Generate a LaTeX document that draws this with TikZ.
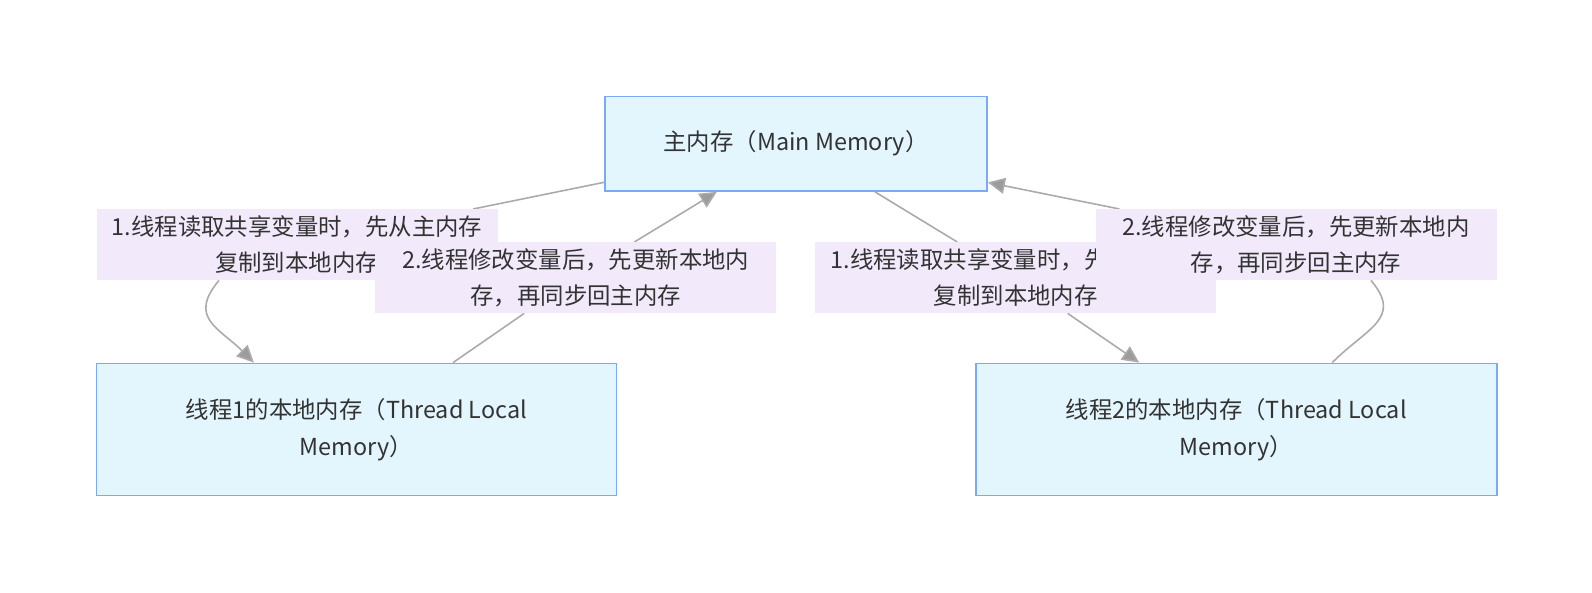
\documentclass[tikz,border=0pt]{standalone}
\usepackage{fontspec}
\setmainfont{Noto Sans CJK SC}
\usetikzlibrary{arrows.meta,backgrounds}
\definecolor{memFill}{HTML}{E3F5FD}
\definecolor{memLine}{HTML}{7AAAF5}
\definecolor{labelFill}{HTML}{F2EAFB}
\definecolor{edgeLine}{HTML}{ABABAB}
\definecolor{tipFill}{HTML}{9C9C9C}
\definecolor{textGray}{HTML}{333333}
\begin{document}
\begin{tikzpicture}[x=1pt,y=1pt,%%
  memStyle/.style={draw=memLine,fill=memFill,line width=1.8pt,align=center,%%
    text=textGray,inner sep=0pt,font=\fontsize{23.4}{36.5}\selectfont},%%
  labelStyle/.style={fill=labelFill,align=center,text=textGray,inner sep=0pt,%%
    minimum width=401pt,minimum height=71pt,font=\fontsize{23.4}{36.5}\selectfont},%%
  edgeStyle/.style={draw=edgeLine,line width=1.6pt},%%
  arrowStyle/.style={edgeStyle,-{Triangle[length=17pt,width=16pt,fill=tipFill]}}
]
\useasboundingbox (0,0) rectangle (1592,592);
%%
%% The memories.
\node[memStyle,minimum width=382pt,minimum height=94.5pt] (main) at (796,448.3)
  {主内存（Main Memory）};
\node[memStyle,minimum width=520pt,minimum height=132pt] (local1) at (356.4,162.5)
  {线程1的本地内存（Thread Local\\Memory）};
\node[memStyle,minimum width=521pt,minimum height=132pt] (local2) at (1236.2,162.5)
  {线程2的本地内存（Thread Local\\Memory）};
%%
%% The edge labels.
\node[labelStyle] (readOne) at (297,347.3)
  {1.线程读取共享变量时，先从主内存\\复制到本地内存};
\node[labelStyle] (writeOne) at (575.7,314.3)
  {2.线程修改变量后，先更新本地内\\存，再同步回主内存};
\node[labelStyle] (readTwo) at (1015.8,314.3)
  {1.线程读取共享变量时，先从主内存\\复制到本地内存};
\node[labelStyle] (writeTwo) at (1296,347.3)
  {2.线程修改变量后，先更新本地内\\存，再同步回主内存};
%%
%% The connectors, behind the labels.
\begin{scope}[on background layer]
  \draw[edgeStyle] (main) -- (readOne);
  \draw[arrowStyle] ([xshift=-78pt]readOne.south) to[out=-130,in=135,looseness=1.4]
    ([xshift=-102.5pt]local1.north);
  \draw[edgeStyle] (local1) -- (writeOne);
  \draw[arrowStyle] (writeOne) -- (main);
  \draw[edgeStyle] (main) -- (readTwo);
  \draw[arrowStyle] (readTwo) -- (local2);
  \draw[edgeStyle] ([xshift=96pt]local2.north) to[out=45,in=-50,looseness=1.4]
    ([xshift=75pt]writeTwo.south);
  \draw[arrowStyle] (writeTwo) -- (main);
\end{scope}
\end{tikzpicture}
\end{document}
